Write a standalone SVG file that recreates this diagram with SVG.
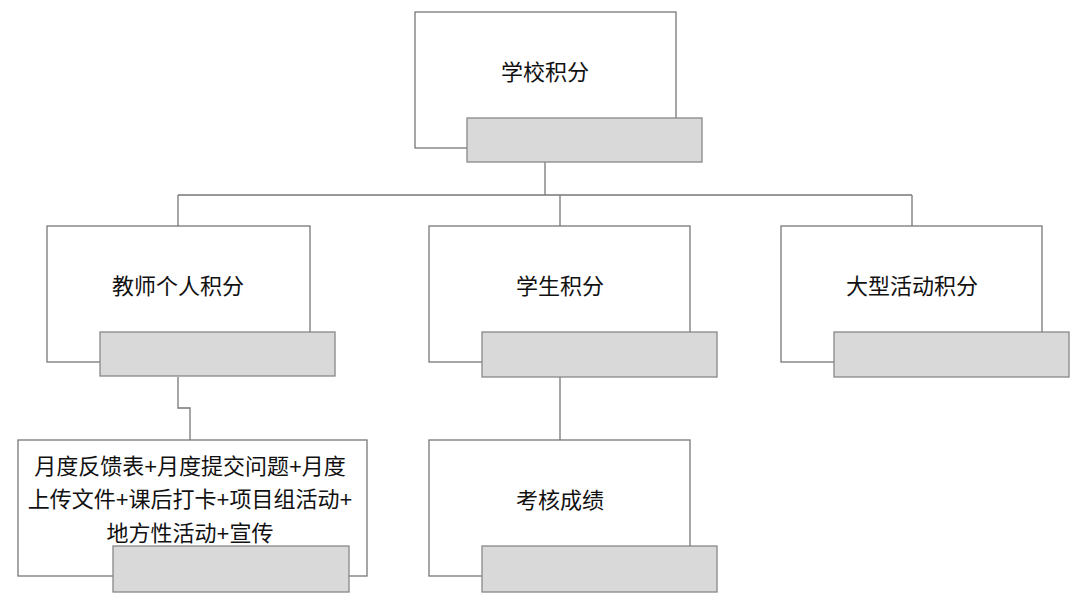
<svg xmlns="http://www.w3.org/2000/svg" width="1080" height="602" viewBox="0 0 1080 602">
<style>
.b{fill:#fff;stroke:#777;stroke-width:1.3}
.g{fill:#d9d9d9;stroke:#888;stroke-width:1.3}
.t{font-family:"Liberation Sans","Noto Sans CJK SC",sans-serif;font-size:22px;fill:#111;text-anchor:middle}
.c{fill:none;stroke:#777;stroke-width:1.3}
</style>
<rect width="1080" height="602" fill="#fff"/>
<g id="connectors">
<path class="c" d="M545,162V195M178,195H912M178,195V226M560,195V226M912,195V226M178,377V408H190V440M560,377V440"/>
</g>
<g id="n1"><rect class="b" x="415" y="12" width="261" height="136"/><rect class="g" x="467" y="118" width="235" height="44"/><text class="t" x="545" y="80">学校积分</text></g>
<g id="n2"><rect class="b" x="47" y="226" width="263" height="136"/><rect class="g" x="100" y="332" width="235" height="44"/><text class="t" x="178" y="294">教师个人积分</text></g>
<g id="n3"><rect class="b" x="429" y="226" width="261" height="136"/><rect class="g" x="482" y="332" width="235" height="45"/><text class="t" x="560" y="294">学生积分</text></g>
<g id="n4"><rect class="b" x="781" y="226" width="261" height="136"/><rect class="g" x="834" y="332" width="235" height="45"/><text class="t" x="912" y="294">大型活动积分</text></g>
<g id="n5"><rect class="b" x="18" y="440" width="349" height="136"/><rect class="g" x="113" y="546" width="236" height="46"/><text class="t" x="190" y="474">月度反馈表+月度提交问题+月度</text><text class="t" x="190" y="507">上传文件+课后打卡+项目组活动+</text><text class="t" x="190" y="541" text-anchor="middle">地方性活动+宣传</text></g>
<g id="n6"><rect class="b" x="429" y="440" width="261" height="136"/><rect class="g" x="482" y="546" width="235" height="46"/><text class="t" x="560" y="508">考核成绩</text></g>
</svg>
